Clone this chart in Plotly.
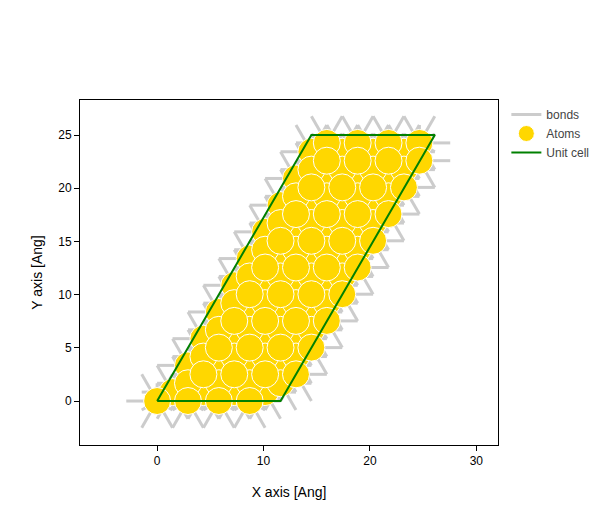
import numpy as np
import plotly.graph_objects as go

cell_a = [11.6, 0.0]
cell_b = [14.5, 25.0]

front_row_y = [0.0, 2.51, 5.02, 7.53, 10.04, 12.55, 15.06, 17.57, 20.08, 22.59]
front_rows_x = [
    [0.0, 2.9, 5.8, 8.7], [4.35, 7.25, 10.15, 13.05], [5.8, 8.7, 11.6, 14.5],
    [7.25, 10.15, 13.05, 15.95], [8.7, 11.6, 14.5, 17.4], [10.15, 13.05, 15.95, 18.85],
    [11.6, 14.5, 17.4, 20.3], [13.05, 15.95, 18.85, 21.75], [14.5, 17.4, 20.3, 23.2],
    [15.95, 18.85, 21.75, 24.65],
]
lower_row_y = [0.84, 3.35, 5.86, 8.37, 10.88, 13.39, 15.9, 18.41, 20.92, 23.43]
lower_rows_x = [
    [1.45, 4.35, 7.25, 10.15], [2.9, 5.8, 8.7, 11.6], [4.35, 7.25, 10.15, 13.05],
    [5.8, 8.7, 11.6, 14.5], [7.25, 10.15, 13.05, 15.95], [8.7, 11.6, 14.5, 17.4],
    [10.15, 13.05, 15.95, 18.85], [11.6, 14.5, 17.4, 20.3], [13.05, 15.95, 18.85, 21.75],
    [14.5, 17.4, 20.3, 23.2],
]
middle_row_y = [1.67, 4.18, 6.69, 9.2, 11.71, 14.22, 16.73, 19.24, 21.75, 24.26]
middle_rows_x = [
    [2.9, 5.8, 8.7, 11.6], [4.35, 7.25, 10.15, 13.05], [5.8, 8.7, 11.6, 14.5],
    [7.25, 10.15, 13.05, 15.95], [8.7, 11.6, 14.5, 17.4], [10.15, 13.05, 15.95, 18.85],
    [11.6, 14.5, 17.4, 20.3], [13.05, 15.95, 18.85, 21.75], [14.5, 17.4, 20.3, 23.2],
    [15.95, 18.85, 21.75, 24.65],
]
layer_depth = [0.0, 2.37, 4.74]
x_ticks = [0, 10, 20, 30]
y_ticks = [0, 5, 10, 15, 20, 25]

layers = [(lower_rows_x, lower_row_y), (middle_rows_x, middle_row_y), (front_rows_x, front_row_y)]
atom_x, atom_y, atom_z = [], [], []
for (rows, ys), z in zip(layers, layer_depth):
    for r, y in zip(rows, ys):
        for x in r:
            atom_x.append(x); atom_y.append(y); atom_z.append(z)
pos = np.array([atom_x, atom_y, atom_z]).T
A, B = np.array(cell_a), np.array([cell_b[0], 25.1])
bx, by = [], []
for p in pos:
    for n in (-1, 0, 1):
        for m in (-1, 0, 1):
            shift = n * A + m * B
            q = pos + np.array([shift[0], shift[1], 0.0])
            d = np.linalg.norm(q - p, axis=1)
            for t in q[(d > 0.1) & (d < 3.15)]:
                bx += [p[0], t[0], None]
                by += [p[1], t[1], None]

fig = go.Figure()
fig.add_trace(go.Scatter(x=bx, y=by, mode="lines", name="bonds",
                         line=dict(color="#cccccc", width=3), connectgaps=False))
fig.add_trace(go.Scatter(x=atom_x, y=atom_y, mode="markers", name="Atoms",
                         marker=dict(color="gold", size=[27] * len(atom_x), line=dict(color="white", width=1), opacity=1)))
ox = [0, cell_a[0], cell_a[0] + cell_b[0], cell_b[0], 0]
oy = [0, cell_a[1], cell_a[1] + cell_b[1], cell_b[1], 0]
fig.add_trace(go.Scatter(x=ox, y=oy, mode="lines", name="Unit cell",
                         line=dict(color="green", width=2)))
axis = dict(showgrid=False, zeroline=False, showline=True, mirror=True, linecolor="black", linewidth=1,
            ticks="outside", ticklen=5, tickcolor="black", tickfont=dict(size=12, color="black"))
fig.update_layout(
    autosize=True,
    margin=dict(l=72, r=103, t=92, b=72, autoexpand=False),
    paper_bgcolor="white", plot_bgcolor="white",
    font=dict(family="Liberation Sans, Arial, sans-serif", color="black"),
    xaxis=dict(axis, range=[-7.25, 32.04], tickvals=x_ticks, title=dict(text="X axis [Ang]", font=dict(size=14), standoff=19)),
    yaxis=dict(axis, range=[-4.13, 28.29], tickvals=y_ticks, title=dict(text="Y axis [Ang]", font=dict(size=14), standoff=12),
               scaleanchor="x", scaleratio=1),
    legend=dict(x=1.02, y=1, font=dict(size=12, color="#444")),
)
fig.write_html("out.html")
